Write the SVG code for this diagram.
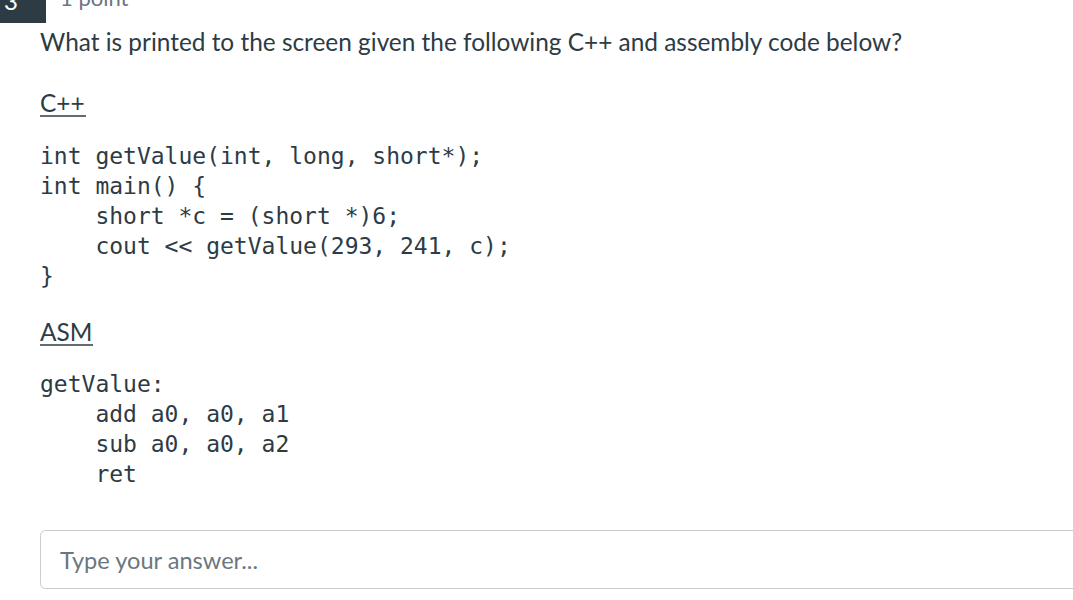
<svg xmlns="http://www.w3.org/2000/svg" width="1073" height="600" viewBox="0 0 1073 600">
<style>
.t{font-family:Lato,"Open Sans",sans-serif;fill:#2d3b45}
.c{font-family:"DejaVu Sans Mono","Liberation Mono",monospace;font-size:23px;fill:#2d3b45;white-space:pre}
</style>
<rect width="1073" height="600" fill="#fff"/>
<rect x="0" y="-5" width="46" height="28" fill="#2d3b45"/>
<text x="4" y="10" class="t" style="fill:#fff;font-size:24px">3</text>
<text x="60" y="6" class="t" style="fill:#6b7780;font-size:22px">1 point</text>
<text x="40" y="51" class="t" style="font-size:24.4px">What is printed to the screen given the following C++ and assembly code below?</text>
<text x="40" y="112" class="t" style="font-size:24.4px">C++</text>
<line x1="40" y1="116" x2="86" y2="116" stroke="#2d3b45" stroke-width="1.5"/>
<text class="c" x="40" y="164">int getValue(int, long, short*);</text>
<text class="c" x="40" y="194">int main() {</text>
<text class="c" x="40" y="224">    short *c = (short *)6;</text>
<text class="c" x="40" y="254">    cout &lt;&lt; getValue(293, 241, c);</text>
<text class="c" x="40" y="284">}</text>
<text x="40" y="341" class="t" style="font-size:24.4px">ASM</text>
<line x1="40" y1="345" x2="93" y2="345" stroke="#2d3b45" stroke-width="1.5"/>
<text class="c" x="40" y="392">getValue:</text>
<text class="c" x="40" y="422">    add a0, a0, a1</text>
<text class="c" x="40" y="452">    sub a0, a0, a2</text>
<text class="c" x="40" y="482">    ret</text>
<rect x="40.5" y="530.5" width="1040" height="58" rx="5" fill="#fff" stroke="#c7cdd1"/>
<text x="60" y="569" class="t" style="fill:#6b7780;font-size:23.6px">Type your answer...</text>
</svg>
